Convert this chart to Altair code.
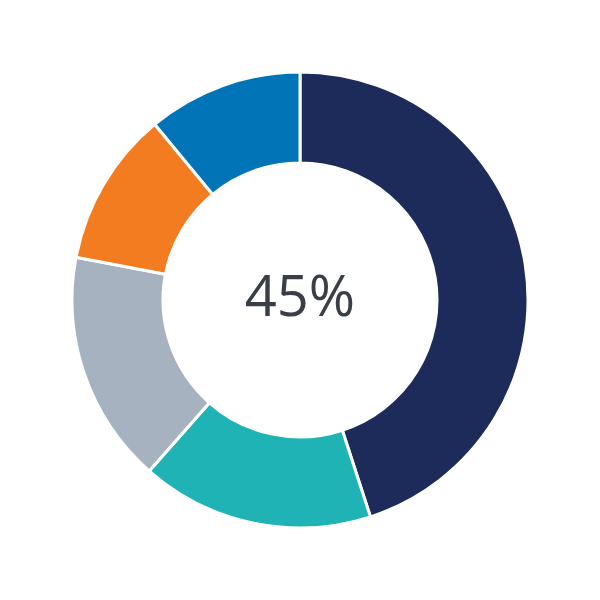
import altair as alt
import pandas as pd

categories = ["A", "B", "C", "D", "E"]
values = [45, 16.5, 16.5, 11, 11]
colors = ["#1c2b5a", "#1fb3b5", "#a7b2c0", "#f47c20", "#0074b7"]
center_label = "45%"

df = pd.DataFrame({"cat": categories, "val": values, "ord": list(range(len(categories)))})

arcs = alt.Chart(df).mark_arc(
    innerRadius=137, outerRadius=228, stroke="white", strokeWidth=3
).encode(
    theta=alt.Theta("val:Q", stack=True),
    color=alt.Color("cat:N", scale=alt.Scale(domain=categories, range=colors), legend=None),
    order=alt.Order("ord:Q"),
)

label = alt.Chart(pd.DataFrame({"t": [center_label]})).mark_text(
    font="Open Sans", fontSize=56, color="#3a3f47", baseline="middle", align="center"
).encode(
    text="t:N", x=alt.value(292), y=alt.value(291)
)

chart = alt.layer(arcs, label).properties(
    width=584, height=584, autosize=alt.AutoSizeParams(type="none"), padding=0
).configure_view(stroke=None)

chart.save("out.html", embed_options={"renderer": "svg", "actions": False})
